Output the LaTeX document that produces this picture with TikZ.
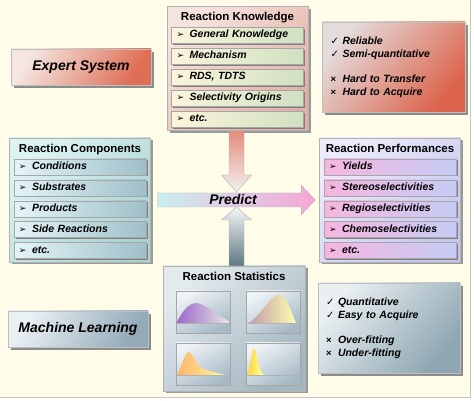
\documentclass[tikz,border=0pt]{standalone}
\usepackage{fontspec}
\setmainfont{Liberation Sans}
\newfontfamily\symbfont{DejaVu Sans}
\usetikzlibrary{positioning,shadows,calc}
\definecolor{creamback}{HTML}{FFFDE9}
\definecolor{frameline}{HTML}{C4C4C4}
\definecolor{expertL}{HTML}{F5E6E2}\definecolor{expertR}{HTML}{DE6E55}
\definecolor{knowT}{HTML}{F6E2DE}\definecolor{knowB}{HTML}{E3AFA3}
\definecolor{knowitemL}{HTML}{FBF5DC}\definecolor{knowitemR}{HTML}{CFE0C0}
\definecolor{prosT}{HTML}{E4DCDC}\definecolor{prosB}{HTML}{DC644C}
\definecolor{compT}{HTML}{DDF3F2}\definecolor{compB}{HTML}{A9D2D2}
\definecolor{compitemL}{HTML}{E4F5F8}\definecolor{compitemR}{HTML}{9FBFC8}
\definecolor{perfT}{HTML}{ECEBFA}\definecolor{perfB}{HTML}{C4C6EE}
\definecolor{perfitemL}{HTML}{F6B6DE}\definecolor{perfitemR}{HTML}{C6CCF6}
\definecolor{predL}{HTML}{C9EFEF}\definecolor{predR}{HTML}{F6A6D6}
\definecolor{downT}{HTML}{E48C7C}\definecolor{downB}{HTML}{F2F2F2}
\definecolor{upT}{HTML}{F4F6F6}\definecolor{upB}{HTML}{5E7882}
\definecolor{statT}{HTML}{E3EAEE}\definecolor{statB}{HTML}{A4B6C0}
\definecolor{mlT}{HTML}{EAF1F5}\definecolor{mlB}{HTML}{94AAB8}
\definecolor{consT}{HTML}{EAF0F2}\definecolor{consB}{HTML}{8EA6B2}
\definecolor{chartT}{HTML}{EEF3F6}\definecolor{chartB}{HTML}{A6BAC6}
\newcommand\panelhead{\bfseries\fontsize{11.5}{13}\selectfont}
\newcommand\itemtext{\bfseries\itshape\fontsize{10.5}{13}\selectfont}
\newcommand\bigtext{\bfseries\itshape\fontsize{14}{16}\selectfont}
\newcommand\bul{{\symbfont\upshape\mdseries\fontsize{9}{9}\selectfont ➢}\hspace{5.5pt}}
\newcommand\okmark{\makebox[12pt][l]{\symbfont\upshape\mdseries\fontsize{10}{10}\selectfont ✓}}
\newcommand\nomark{\makebox[12pt][l]{\upshape\fontsize{9.5}{9.5}\selectfont ×}}

\begin{document}
\begin{tikzpicture}[x=1pt,y=1pt,
  panel/.style={draw=gray!60, inner sep=0, minimum width=141, minimum height=124,
    drop shadow={shadow xshift=2.5pt,shadow yshift=-2.5pt,fill=black!40,opacity=1}},
  item/.style={draw=gray!70, inner xsep=5pt, inner ysep=0pt, minimum height=16,
    text width=122pt, text height=7.5pt, text depth=2.5pt, align=left, font=\itemtext,
    drop shadow={shadow xshift=1.5pt,shadow yshift=-1.5pt,fill=black!50,opacity=1}},
  head/.style={font=\panelhead, inner sep=0, anchor=base},
  labelbox/.style={draw=gray!50, minimum width=140, minimum height=36, font=\bigtext,
    drop shadow={shadow xshift=3pt,shadow yshift=-3pt,fill=black!45,opacity=1}},
  notebox/.style={draw=gray!50, minimum width=143, minimum height=90, text width=126pt,
    align=left, font=\itemtext,
    drop shadow={shadow xshift=3pt,shadow yshift=-3pt,fill=black!45,opacity=1}},
  chart/.style={draw=gray!70, minimum width=54, minimum height=42, inner sep=0,
    top color=chartT, bottom color=chartB, shading angle=30},
  arrowbody/.style={draw=gray!60, line width=0.4pt},
  node distance=4.5pt]

\useasboundingbox (0,0) rectangle (474,401);
\fill[white] (0,0) rectangle (474,401);
\draw[fill=creamback, draw=frameline] (-2,4) rectangle (470,403);

% left labels
\node[labelbox, top color=expertL, bottom color=expertR, shading angle=60] (expert) at (81,334) {Expert System};
\node[labelbox, top color=mlT, bottom color=mlB, shading angle=60] (ml) at (78,72) {Machine Learning};

% knowledge
\node[panel, top color=knowT, bottom color=knowB, shading angle=45] (know) at (237.5,332.5) {};
\node[head] (knowhead) at ($(know.north)+(0,-14.5)$) {Reaction Knowledge};
\node[item, left color=knowitemL, right color=knowitemR, below=21pt of know.north] (k1) {\bul General Knowledge};
\node[item, left color=knowitemL, right color=knowitemR, below=of k1] (k2) {\bul Mechanism};
\node[item, left color=knowitemL, right color=knowitemR, below=of k2] (k3) {\bul RDS, TDTS};
\node[item, left color=knowitemL, right color=knowitemR, below=of k3] (k4) {\bul Selectivity Origins};
\node[item, left color=knowitemL, right color=knowitemR, below=of k4] (k5) {\bul etc.};

% components
\node[panel, top color=compT, bottom color=compB, shading angle=45] (comp) at (80,201) {};
\node[head] (comphead) at ($(comp.north)+(0,-14.5)$) {Reaction Components};
\node[item, left color=compitemL, right color=compitemR, below=21pt of comp.north] (c1) {\bul Conditions};
\node[item, left color=compitemL, right color=compitemR, below=of c1] (c2) {\bul Substrates};
\node[item, left color=compitemL, right color=compitemR, below=of c2] (c3) {\bul Products};
\node[item, left color=compitemL, right color=compitemR, below=of c3] (c4) {\bul Side Reactions};
\node[item, left color=compitemL, right color=compitemR, below=of c4] (c5) {\bul etc.};

% performances
\node[panel, top color=perfT, bottom color=perfB, shading angle=45] (perf) at (390,201) {};
\node[head] (perfhead) at ($(perf.north)+(0,-14.5)$) {Reaction Performances};
\node[item, left color=perfitemL, right color=perfitemR, below=21pt of perf.north] (p1) {\bul Yields};
\node[item, left color=perfitemL, right color=perfitemR, below=of p1] (p2) {\bul Stereoselectivities};
\node[item, left color=perfitemL, right color=perfitemR, below=of p2] (p3) {\bul Regioselectivities};
\node[item, left color=perfitemL, right color=perfitemR, below=of p3] (p4) {\bul Chemoselectivities};
\node[item, left color=perfitemL, right color=perfitemR, below=of p4] (p5) {\bul etc.};

% statistics
\node[panel, minimum width=142, minimum height=125, top color=statT, bottom color=statB, shading angle=45] (stat) at (234,72.5) {};
\node[head] (stathead) at ($(stat.north)+(0,-15)$) {Reaction Statistics};
\node[chart] (g1) at (203,89) {};
\node[chart] (g2) at (273.5,89) {};
\node[chart] (g3) at (203,37) {};
\node[chart] (g4) at (273.5,37) {};
\shade[shift={(g1.south west)}, left color=violet!70!blue!60, right color=gray!20]
  (0.5,9.5) .. controls (6,22) and (14,31) .. (21,30) .. controls (30,29) and (42,18) .. (53,12) -- (53,9.5) -- cycle;
\shade[shift={(g2.south west)}, left color=purple!35!gray!60, right color=yellow!30]
  (1,9.5) .. controls (12,14) and (24,38) .. (32,38.5) .. controls (40,39) and (45,20) .. (50,9.5) -- cycle;
\shade[shift={(g3.south west)}, left color=orange!60, right color=yellow!35]
  (0.5,9.5) .. controls (5,15) and (9,33) .. (13,33) .. controls (17,33) and (20,20) .. (26,17) .. controls (34,14) and (45,11) .. (53,9.5) -- cycle;
\shade[shift={(g4.south west)}, left color=orange!40!yellow!80, right color=yellow!30]
  (1,9.5) .. controls (4,20) and (6,37) .. (8,37) .. controls (10,37) and (12,14) .. (18,9.5) -- cycle;
\foreach \g in {g1,g2,g3,g4}
  \draw[gray!60] ($(\g.south west)+(0,9.5)$) -- ($(\g.south east)+(0,9.5)$);

% pros and cons
\node[notebox, top color=prosT, bottom color=prosB, shading angle=50] (pros) at (393.5,334)
  {\okmark Reliable\\ \okmark Semi-quantitative\\[12pt] \nomark Hard to Transfer\\ \nomark Hard to Acquire};
\node[notebox, minimum width=142, top color=consT, bottom color=consB, shading angle=50] (cons) at (389,73)
  {\okmark Quantitative\\ \okmark Easy to Acquire\\[12pt] \nomark Over-fitting\\ \nomark Under-fitting};

% arrows
\coordinate (hub) at (236.5,201);
\shade[arrowbody, left color=predL, right color=predR]
  let \p1=($(comp.east)+(7,0)$), \p2=($(perf.west)+(-4,0)$) in
  (\x1,\y1-7) -- (\x2-14,\y1-7) -- (\x2-14,\y1-14.5) -- (\x2,\y1) -- (\x2-14,\y1+14.5)
  -- (\x2-14,\y1+7) -- (\x1,\y1+7) -- cycle;
\shade[arrowbody, top color=downT, bottom color=downB]
  let \p1=(know.south -| hub), \p2=($(hub)+(0,8)$) in
  (\x1-7.5,\y1) -- (\x1+7.5,\y1) -- (\x1+7.5,\y2+17) -- (\x1+15,\y2+17) -- (\x2,\y2)
  -- (\x1-15,\y2+17) -- (\x1-7.5,\y2+17) -- cycle;
\shade[arrowbody, top color=upT, bottom color=upB]
  let \p1=(stat.north -| hub), \p2=($(hub)+(0,-7)$) in
  (\x1-7.5,\y1) -- (\x1+7.5,\y1) -- (\x1+7.5,\y2-13) -- (\x1+15,\y2-13) -- (\x2,\y2)
  -- (\x1-15,\y2-13) -- (\x1-7.5,\y2-13) -- cycle;
\node[font=\bigtext, inner sep=0] (predict) at (233,201) {Predict};

\end{tikzpicture}
\end{document}
